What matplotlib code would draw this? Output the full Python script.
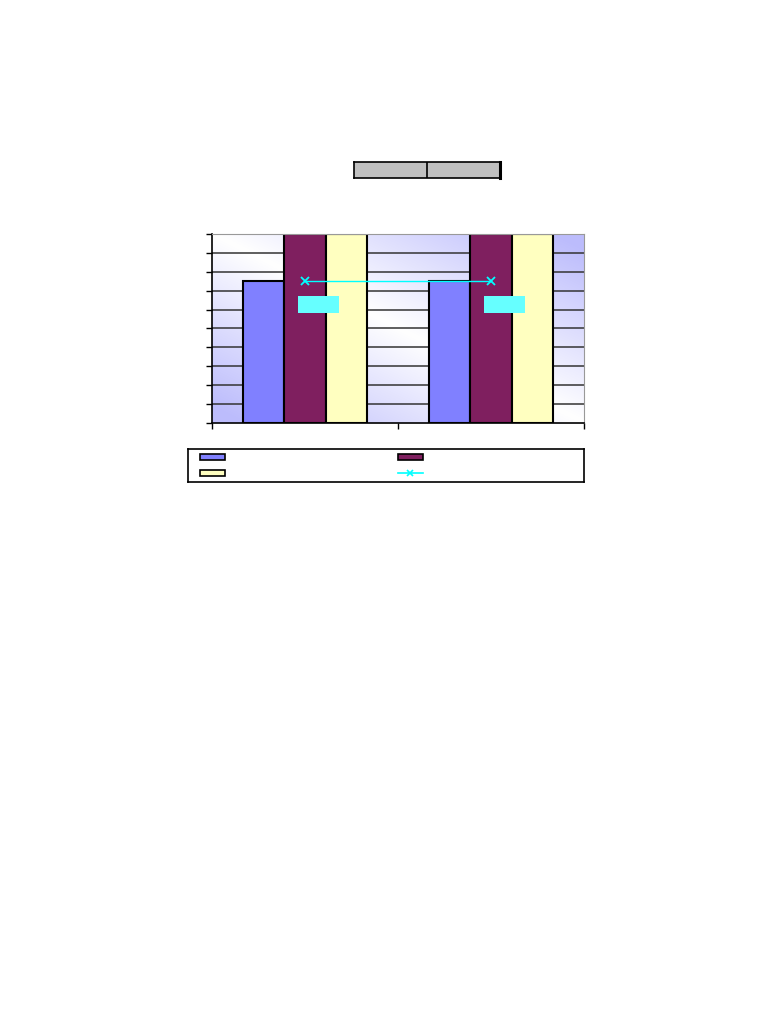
import numpy as np
import matplotlib
matplotlib.use('Agg')
import matplotlib.pyplot as plt
from matplotlib.patches import Rectangle
from matplotlib.lines import Line2D

# data (no text in the chart)
categories = [0, 1]
blue_vals = [7.5, 7.5]
purple_vals = [10, 10]
yellow_vals = [10, 10]
line_vals = [7.5, 7.5]

bar_colors = ['#8080FF', '#7F1F5F', '#FFFFC0']
line_color = '#00FFFF'
label_color = '#66FFFF'

fig = plt.figure(figsize=(7.68, 10.24), dpi=100)
fig.patch.set_facecolor('white')

ax = fig.add_axes([0.276, 0.5869, 0.4844, 0.1846])
ax.set_xlim(-0.5, 1.5)
ax.set_ylim(0, 10)

# diagonal gradient behind the plot
u, v = np.meshgrid(np.linspace(0, 1, 300), np.linspace(1, 0, 200))
t = np.clip(np.abs(u + v - 1) * 1.1, 0, 1)
lav = np.array([0.74, 0.74, 0.99])
img = (1 - t[..., None]) * np.array([1, 1, 1]) + t[..., None] * lav
ax.imshow(img, extent=[-0.5, 1.5, 0, 10], aspect='auto', zorder=0)

for y in range(1, 11):
    ax.axhline(y, color='#333333', lw=1.1, zorder=1)

x = np.array(categories, dtype=float)
w = 1 / 4.5
for k, vals in enumerate([blue_vals, purple_vals, yellow_vals]):
    ax.bar(x + (k - 1) * w, vals, width=w, color=bar_colors[k],
           edgecolor='black', linewidth=1.5, zorder=2)

ax.plot(x, line_vals, color=line_color, lw=1, marker='x', ms=6,
        mew=1.3, zorder=4, clip_on=False)

# empty data labels (cyan boxes)
for xi, yi in zip(x, line_vals):
    ax.add_patch(Rectangle((xi + 0.073 - 0.11, yi - 1.23 - 0.45), 0.22, 0.9,
                           facecolor=label_color, edgecolor='none', zorder=5))

ax.set_xticks([-0.5, 0.5, 1.5])
ax.set_yticks(range(0, 11))
ax.set_xticklabels([])
ax.set_yticklabels([])
ax.tick_params(axis='y', direction='out', length=4, width=1, color='black')
ax.tick_params(axis='x', direction='out', length=4, width=1, color='black')
for s in ['top', 'right']:
    ax.spines[s].set_color('#999999')
for s in ['left', 'bottom']:
    ax.spines[s].set_color('black')
    ax.spines[s].set_linewidth(1.2)

# gray box above the chart
top = fig.add_axes([0.4609, 0.8262, 0.190, 0.0156])
top.set_xlim(0, 2)
top.set_ylim(0, 1)
top.add_patch(Rectangle((0, 0), 2, 1, facecolor='#C0C0C0', edgecolor='none'))
top.axvline(1, color='black', lw=1.2)
top.set_xticks([])
top.set_yticks([])
for s in top.spines.values():
    s.set_color('black')
    s.set_linewidth(1.2)
top.spines['right'].set_linewidth(2.2)

# legend box
lg = fig.add_axes([0.2448, 0.5293, 0.5156, 0.0322])
lg.set_xlim(0, 1)
lg.set_ylim(0, 1)
lg.set_xticks([])
lg.set_yticks([])
for s in lg.spines.values():
    s.set_color('black')
    s.set_linewidth(1.2)
rows = [(0.0303, 0.758), (0.53, 0.758), (0.0303, 0.273)]
for (lx, ly), c in zip(rows, bar_colors):
    lg.add_patch(Rectangle((lx, ly - 0.1), 0.063, 0.2, facecolor=c,
                           edgecolor='black', lw=1.2))
lg.add_line(Line2D([0.53, 0.593], [0.273, 0.273], color=line_color, lw=1.2))
lg.plot([0.5615], [0.273], marker='x', color=line_color, ms=5, mew=1.2)

fig.savefig('out.png', dpi=100)
